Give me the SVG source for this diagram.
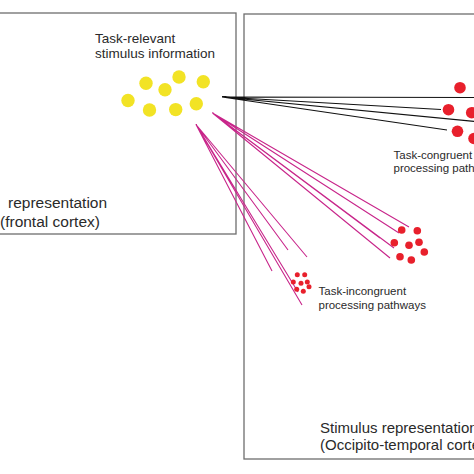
<svg xmlns="http://www.w3.org/2000/svg" width="474" height="474" viewBox="0 0 474 474">
<style>
.box{fill:none;stroke:#6e6e6e;stroke-width:1.3}
.lbl{font-family:"Liberation Sans",Arial,sans-serif;fill:#2a2a2a}
.yel{fill:#f2e325}
.red{fill:#e8202c}
.blk{stroke:#111;stroke-width:1.2;fill:none}
.mag{stroke:#c8258a;stroke-width:1.1;fill:none}
</style>
<rect width="474" height="474" fill="#fff"/>
<g id="task-box">
<rect class="box" x="-4" y="13" width="240" height="221"/>
<text class="lbl" font-size="15.5" x="8" y="208">representation</text>
<text class="lbl" font-size="15.5" x="0" y="227">(frontal cortex)</text>
</g>
<g id="stimulus-box">
<rect class="box" x="244" y="14" width="240" height="445"/>
<text class="lbl" font-size="15" x="320" y="433">Stimulus representation</text>
<text class="lbl" font-size="15" x="320" y="450">(Occipito-temporal cortex)</text>
</g>
<g id="connectors">
<path class="blk" d="M222 97 L480 97.5 M222 97 L441 109.5 M222 97 L480 122 M222 97 L447 130"/>
<path class="mag" d="M212.5 113 L409 227 M212.5 113 L399 233 M212.5 113 L380 238 M212.5 113 L394 248 M212.5 113 L390 258"/>
<path class="mag" d="M196 124.5 L307 257 M196 124.5 L288 250 M196 124.5 L272 271 M196 124.5 L298 292 M196 124.5 L302 305"/>
</g>
<g id="task-relevant">
<text class="lbl" font-size="13.5" x="95" y="43">Task-relevant</text>
<text class="lbl" font-size="13.5" x="95" y="58">stimulus information</text>
<circle class="yel" cx="128" cy="100.5" r="6.7"/>
<circle class="yel" cx="146" cy="83.3" r="6.7"/>
<circle class="yel" cx="165" cy="89.7" r="6.7"/>
<circle class="yel" cx="179" cy="77" r="6.7"/>
<circle class="yel" cx="203.3" cy="81.8" r="6.7"/>
<circle class="yel" cx="149.5" cy="110" r="6.7"/>
<circle class="yel" cx="175.7" cy="109.6" r="6.7"/>
<circle class="yel" cx="196.3" cy="103.7" r="6.7"/>
</g>
<g id="task-congruent">
<circle class="red" cx="460" cy="87.7" r="5.8"/>
<circle class="red" cx="448.5" cy="109.7" r="5.8"/>
<circle class="red" cx="471.7" cy="112.7" r="5.8"/>
<circle class="red" cx="457.5" cy="131.3" r="5.8"/>
<circle class="red" cx="474" cy="138.5" r="5.8"/>
<text class="lbl" font-size="11.5" x="393.5" y="159">Task-congruent</text>
<text class="lbl" font-size="11.5" x="393.5" y="172">processing pathways</text>
</g>
<g id="congruent-cluster">
<circle class="red" cx="401.7" cy="230" r="3.8"/>
<circle class="red" cx="417.3" cy="230.7" r="3.8"/>
<circle class="red" cx="394.3" cy="242.7" r="3.8"/>
<circle class="red" cx="409" cy="245.3" r="3.8"/>
<circle class="red" cx="419" cy="242.3" r="3.8"/>
<circle class="red" cx="424.3" cy="252" r="3.8"/>
<circle class="red" cx="400" cy="256.7" r="3.8"/>
<circle class="red" cx="411.3" cy="260" r="3.8"/>
</g>
<g id="task-incongruent">
<circle class="red" cx="297.3" cy="274.7" r="2.5"/>
<circle class="red" cx="304.7" cy="274.7" r="2.5"/>
<circle class="red" cx="293.3" cy="282" r="2.5"/>
<circle class="red" cx="301" cy="283.3" r="2.5"/>
<circle class="red" cx="307.3" cy="282" r="2.5"/>
<circle class="red" cx="309" cy="286.7" r="2.5"/>
<circle class="red" cx="296.7" cy="289.3" r="2.5"/>
<circle class="red" cx="303.3" cy="291.3" r="2.5"/>
<text class="lbl" font-size="11.5" x="318.5" y="295">Task-incongruent</text>
<text class="lbl" font-size="11.5" x="318.5" y="309">processing pathways</text>
</g>
</svg>
